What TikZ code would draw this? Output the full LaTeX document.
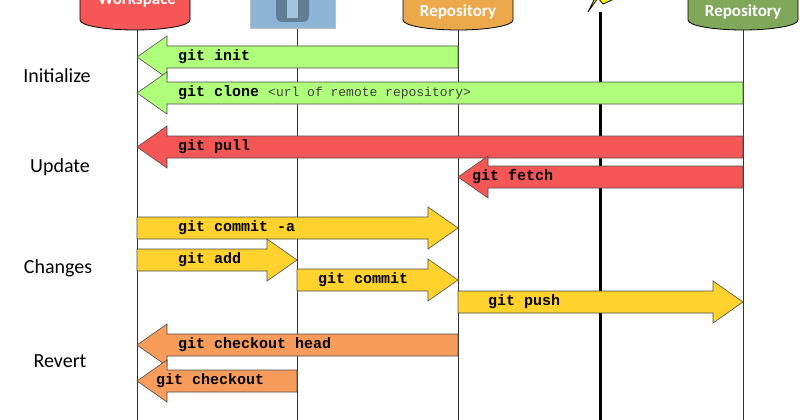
\documentclass[tikz,border=0pt]{standalone}
\usepackage{fontspec}
\setmainfont{Carlito}
\newfontfamily\codefont{Liberation Mono}
\usetikzlibrary{positioning, calc}

\definecolor{initgreen}{HTML}{B0FF7A}
\definecolor{updred}{HTML}{F55656}
\definecolor{chgyellow}{HTML}{FFD22E}
\definecolor{revorange}{HTML}{F89C5C}
\definecolor{remotegreen}{HTML}{7FA85A}
\definecolor{lrorange}{HTML}{EBA94C}
\definecolor{indexblue}{HTML}{8CB4D4}

% block arrow from x1 to x2 (tip) at height y
\newcommand{\blockarrow}[4]{%
  \pgfmathsetmacro{\hd}{(#2>#1)?-30:30}
  \draw[#4] (#1,#3-11) -- ({#2+\hd},#3-11) -- ({#2+\hd},#3-21) -- (#2,#3)
    -- ({#2+\hd},#3+21) -- ({#2+\hd},#3+11) -- (#1,#3+11) -- cycle;}

\begin{document}
\begin{tikzpicture}[x=1pt,y=-1pt,
  arrowbody/.style={fill=#1, draw=black!70, line width=0.6pt, line join=miter},
  cmd/.style={anchor=west, font=\codefont\bfseries\fontsize{15}{15}\selectfont, inner sep=0pt},
  phase/.style={font=\fontsize{20}{20}\selectfont, inner sep=0pt},
  head/.style={text=white, font=\bfseries\fontsize{17}{17}\selectfont, inner sep=0pt},
  cyl/.style={fill=#1, draw=black, line width=0.8pt},
  lifeline/.style={draw=black!80, line width=0.7pt}]

  \useasboundingbox (0,0) rectangle (800,420);
  \clip (0,0) rectangle (800,420);

  % Lifelines
  \coordinate (ws) at (137,0);
  \coordinate (ix) at (297,0);
  \coordinate (lr) at (458,0);
  \coordinate (net) at (600,0);
  \coordinate (rr) at (743,0);
  \draw[lifeline] (ws|-0,30) -- (ws|-0,420);
  \draw[lifeline] (ix|-0,28) -- (ix|-0,420);
  \draw[lifeline] (lr|-0,30) -- (lr|-0,420);
  \draw[lifeline] (rr|-0,30) -- (rr|-0,420);
  \draw[line width=3pt] (net|-0,12) -- (net|-0,420);

  % Headers
  \draw[cyl=updred] (80,-20) -- (80,20) arc[start angle=180, end angle=0, x radius=55, y radius=10] -- (190,-20);
  \node[head] (wslabel) at (137,0) {Workspace};
  \draw[cyl=lrorange] (403,-20) -- (403,20) arc[start angle=180, end angle=0, x radius=55, y radius=10] -- (513,-20);
  \node[head] (lrlabel) at (458,12) {Repository};
  \draw[cyl=remotegreen] (688,-20) -- (688,20) arc[start angle=180, end angle=0, x radius=55, y radius=10] -- (798,-20);
  \node[head] (rrlabel) at (743,12) {Repository};
  \node[fill=indexblue, draw=gray!50, minimum width=85pt, minimum height=40pt, inner sep=0pt] (ixicon) at (292.5,8) {};
  \fill[black!60!indexblue, opacity=0.5, rounded corners=6pt] (276,-10) rectangle (309,22);
  \fill[indexblue!80!white] (287,-5) rectangle (298,18);
  \draw[fill=yellow, draw=black, line width=0.8pt] (588,12) -- (598,-2) -- (603,4) -- (645,-15) -- (606,-10) -- (600,-12) -- cycle;

  % Initialize
  \node[phase] (init) at (57,76) {Initialize};
  \blockarrow{458}{137}{57}{arrowbody=initgreen}
  \node[cmd] (ginit) at (178,57) {git init};
  \blockarrow{743}{137}{93}{arrowbody=initgreen}
  \node[cmd] (gclone) at (178,93) {git clone \mdseries\color{black!75}\fontsize{13}{13}\selectfont <url of remote repository>};

  % Update
  \node[phase] (upd) at (60,167) {Update};
  \blockarrow{743}{137}{147}{arrowbody=updred}
  \node[cmd] (gpull) at (178,147) {git pull};
  \blockarrow{743}{458}{177}{arrowbody=updred}
  \node[cmd] (gfetch) at (472,177) {git fetch};

  % Changes
  \node[phase] (chg) at (58,268) {Changes};
  \blockarrow{137}{458}{228}{arrowbody=chgyellow}
  \node[cmd] (gcommita) at (178,228) {git commit -a};
  \blockarrow{137}{297}{260}{arrowbody=chgyellow}
  \node[cmd] (gadd) at (178,260) {git add};
  \blockarrow{297}{458}{280}{arrowbody=chgyellow}
  \node[cmd] (gcommit) at (318,280) {git commit};
  \blockarrow{458}{743}{302}{arrowbody=chgyellow}
  \node[cmd] (gpush) at (488,302) {git push};

  % Revert
  \node[phase] (rev) at (60,361) {Revert};
  \blockarrow{458}{137}{345}{arrowbody=revorange}
  \node[cmd] (gcohead) at (178,345) {git checkout head};
  \blockarrow{297}{137}{381}{arrowbody=revorange}
  \node[cmd] (gco) at (156,381) {git checkout};
\end{tikzpicture}
\end{document}
